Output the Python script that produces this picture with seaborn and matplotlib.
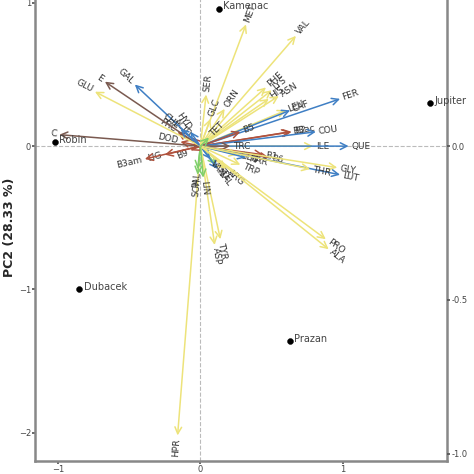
import numpy as np
import matplotlib
matplotlib.use("Agg")
import matplotlib.pyplot as plt
import seaborn as sns
import pandas as pd

sns.set_theme(style="white")
plt.rcParams['font.family'] = ['DejaVu Sans']

# Sample scores (PC1, PC2)
samples = ["Kamenac", "Jupiter", "Robin", "Dubacek", "Prazan"]
samp_x = [0.13, 1.61, -1.02, -0.85, 0.63]
samp_y = [0.96, 0.30, 0.03, -1.00, -1.36]

# Variable loadings (scaled to primary axes)
var_names = ["MET","VAL","PHE","LYS","HIS","ASN","FER","LEU","CAF","B5","B3ac","B2","COU",
             "ILE","QUE","TRC","B1","B6","GLN","NAR","TRP","GLY","LUT","THR","STE","ARG",
             "SAL","VAN","PRO","ALA","TYR","ASP","HPR","SCH","LIN","PAL","B9","LIG","B3am",
             "DOD","PRC","ACID","C","E","GAL","GLU","CHL","HYD","SER","GLC","ORN","TET"]
var_x = [0.32,0.67,0.46,0.50,0.48,0.55,0.98,0.60,0.63,0.28,0.63,0.64,0.81,
         0.79,1.04,0.21,0.44,0.48,0.26,0.32,0.28,0.96,0.98,0.77,0.11,0.18,
         0.12,0.07,0.88,0.90,0.14,0.10,-0.16,-0.02,0.02,-0.02,-0.07,-0.25,-0.39,
         -0.14,-0.16,-0.06,-0.99,-0.67,-0.46,-0.74,-0.14,-0.07,0.04,0.07,0.17,0.06]
var_y = [0.85,0.77,0.41,0.39,0.33,0.35,0.33,0.25,0.25,0.10,0.10,0.10,0.10,
         0.00,0.00,0.00,-0.06,-0.08,-0.06,-0.08,-0.13,-0.15,-0.20,-0.16,-0.13,-0.16,
         -0.16,-0.09,-0.65,-0.72,-0.65,-0.69,-2.02,-0.20,-0.22,-0.16,-0.03,-0.06,-0.09,
         0.03,0.10,0.06,0.08,0.45,0.43,0.38,0.12,0.10,0.36,0.19,0.26,0.06]
var_group = ["aa","aa","aa","aa","aa","aa","ph","aa","ph","vit","vit","vit","ph",
             "aa","ph","oth","vit","vit","aa","ph","aa","aa","ph","aa","fat","aa",
             "ph","ph","aa","aa","aa","aa","aa","fat","fat","fat","vit","vit","vit",
             "vit","vit","vit","oth","oth","ph","aa","ph","ph","aa","aa","aa","fat"]
palette = {"aa": "#ede37a", "ph": "#3f7fc4", "vit": "#b0523d", "oth": "#7a5a50", "fat": "#7fcf6a"}

df = pd.DataFrame({"name": samples, "PC1": samp_x, "PC2": samp_y})

fig = plt.figure(figsize=(4.74, 4.74), dpi=100)
ax = fig.add_axes([0.074, 0.027, 0.869, 0.985])
ax.set_xlim(-1.16, 1.73)
ax.set_ylim(-2.20, 1.06)
ax.axhline(0, color="#bbbbbb", ls="--", lw=0.8, zorder=0)
ax.axvline(0, color="#bbbbbb", ls="--", lw=0.8, zorder=0)

for n, x, y, g in zip(var_names, var_x, var_y, var_group):
    c = palette[g]
    ax.annotate("", xy=(x, y), xytext=(0, 0),
                arrowprops=dict(arrowstyle="->", color=c, lw=1.1, shrinkA=0, shrinkB=0))
    ang = np.degrees(np.arctan2(y, x))
    rot = ang
    if rot > 90: rot -= 180
    if rot < -90: rot += 180
    r = np.hypot(x, y)
    ux, uy = x / r, y / r
    ha = "left" if x >= 0 else "right"
    ax.text(x + ux * 0.02, y + uy * 0.02, n, rotation=rot, rotation_mode="anchor",
            ha=ha, va="center", fontsize=6.5, color="#333333")

sns.scatterplot(data=df, x="PC1", y="PC2", ax=ax, color="black", s=18, edgecolor="black", zorder=5)
for n, x, y in zip(samples, samp_x, samp_y):
    ax.text(x + 0.03, y + 0.015, n, fontsize=7, color="#444444", ha="left", va="center")

ax.set_xticks([-1, 0, 1])
ax.set_yticks([-2, -1, 0, 1])
ax.set_xlabel("")
ax.set_ylabel("PC2 (28.33 %)", fontsize=9, fontweight="bold", labelpad=2)
ax.tick_params(labelsize=6, length=2, pad=1, color="#555555", labelcolor="#444444", left=True, bottom=True)
for s in ax.spines.values():
    s.set_color("#888888"); s.set_linewidth(1.8)

ax2 = ax.twinx()
f = 0.4658
ax2.set_ylim(-2.20 * f, 1.06 * f)
ax2.set_yticks([-1.0, -0.5, 0.0])
ax2.set_yticklabels(["-1.0", "-0.5", "0.0"])
ax2.tick_params(labelsize=6, length=2, pad=1, color="#555555", labelcolor="#444444", right=True)
for s in ax2.spines.values():
    s.set_visible(False)
ax2.grid(False); ax.grid(False)

fig.savefig("out.png", dpi=100)
